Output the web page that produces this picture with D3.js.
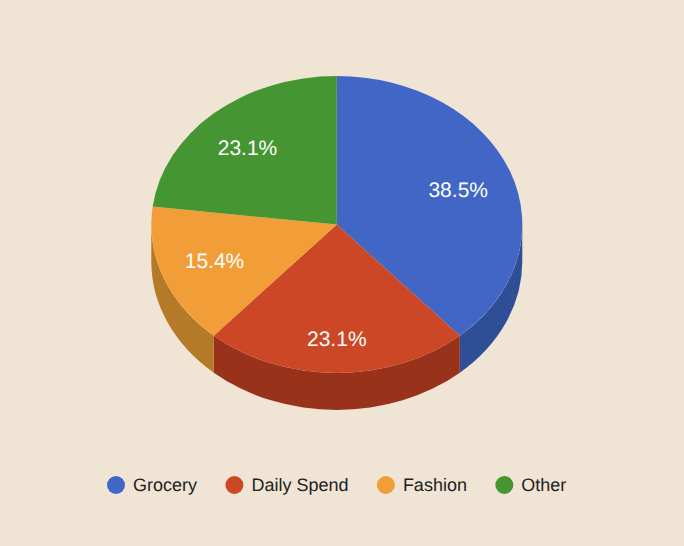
<!DOCTYPE html>
<html>
<head>
<meta charset="utf-8">
<script src="https://cdn.jsdelivr.net/npm/d3@7"></script>
<style>
  html, body { margin: 0; padding: 0; background: #f0e5d5; }
  svg { display: block; }
  text { font-family: "Liberation Sans", Arial, sans-serif; text-rendering: geometricPrecision; }
</style>
</head>
<body>
<div id="chart"></div>
<script>
// Chart data
var categories = ["Grocery", "Daily Spend", "Fashion", "Other"];
var values = [5, 3, 2, 3];

var topColours = ["#4166c5", "#cc4725", "#f29e38", "#459632"];
var sideColours = ["#2f4e98", "#98321b", "#b47a28", "#33701f"];

// Label distance from the centre, as a fraction of each radius
var labelFx = [0.70, 0.70, 0.705, 0.726];
var labelFy = [0.655, 0.767, 0.685, 0.69];

var width = 684,
    height = 546,
    cx = 336.8,
    cy = 224.5,
    rx = 185.5,
    ry = 148.5,
    depth = 37;

var svg = d3.select("#chart").append("svg")
    .attr("width", width)
    .attr("height", height);

var colour = d3.scaleOrdinal().domain(categories).range(topColours);
var sideColour = d3.scaleOrdinal().domain(categories).range(sideColours);

var pie = d3.pie().sort(null).value(function(d) { return d.value; });

var slices = pie(categories.map(function(c, i) {
    return { name: c, value: values[i] };
}));

var total = d3.sum(values);
var pct = d3.format(".1%");

function edge(angle, drop) {
    return [cx + rx * Math.sin(angle), cy - ry * Math.cos(angle) + drop];
}

// Only the front half of the rim is visible
function wall(d) {
    var a0 = Math.max(d.startAngle, Math.PI / 2),
        a1 = Math.min(d.endAngle, Math.PI * 1.5);
    if (a1 <= a0) return null;
    var p0 = edge(a0, 0), p1 = edge(a1, 0), q1 = edge(a1, depth), q0 = edge(a0, depth);
    return "M" + p0 + "A" + rx + "," + ry + " 0 0 1 " + p1 +
           "L" + q1 + "A" + rx + "," + ry + " 0 0 0 " + q0 + "Z";
}

svg.append("g").selectAll("path")
    .data(slices)
    .enter().append("path")
    .attr("d", wall)
    .attr("fill", function(d) { return sideColour(d.data.name); });

var arc = d3.arc().innerRadius(0).outerRadius(rx);

svg.append("g")
    .attr("transform", "translate(" + cx + "," + cy + ") scale(1," + (ry / rx) + ")")
  .selectAll("path")
    .data(slices)
    .enter().append("path")
    .attr("d", arc)
    .attr("fill", function(d) { return colour(d.data.name); });

svg.append("g").selectAll("text")
    .data(slices)
    .enter().append("text")
    .attr("x", function(d, i) {
        var mid = (d.startAngle + d.endAngle) / 2;
        return cx + labelFx[i] * rx * Math.sin(mid);
    })
    .attr("y", function(d, i) {
        var mid = (d.startAngle + d.endAngle) / 2;
        return cy - labelFy[i] * ry * Math.cos(mid);
    })
    .attr("dy", "0.35em")
    .attr("text-anchor", "middle")
    .attr("font-size", 21)
    .attr("fill", "#ffffff")
    .text(function(d) { return pct(d.value / total); });

// Legend, laid out from the measured text widths
var legendX = 107;
var legend = svg.append("g");

categories.forEach(function(c) {
    var item = legend.append("g").attr("transform", "translate(" + legendX + ",485)");
    item.append("circle")
        .attr("cx", 9)
        .attr("r", 9)
        .attr("fill", colour(c));
    var label = item.append("text")
        .attr("x", 26)
        .attr("dy", "0.35em")
        .attr("font-size", 18)
        .attr("fill", "#222222")
        .text(c);
    legendX += 26 + label.node().getComputedTextLength() + 28.4;
});
</script>
</body>
</html>
